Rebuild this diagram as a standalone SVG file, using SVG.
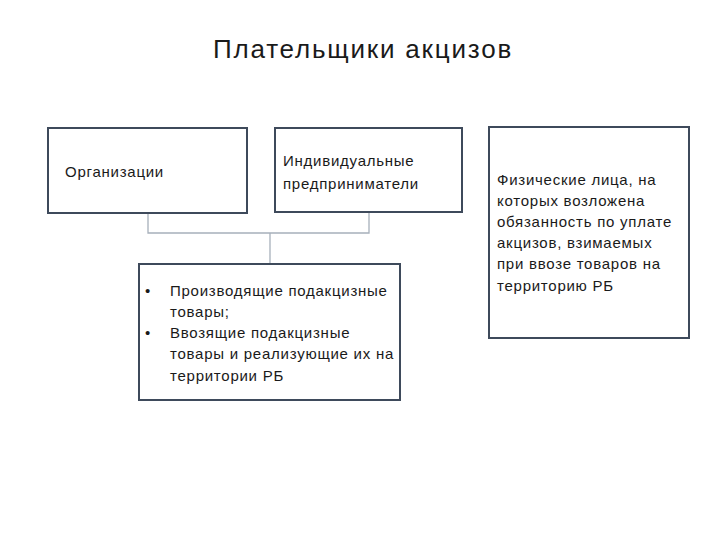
<svg xmlns="http://www.w3.org/2000/svg" width="720" height="540" viewBox="0 0 720 540">
<style>
.box{fill:#ffffff;stroke:#3e4a5b;stroke-width:2}
.t{font-family:"Liberation Sans",Arial,sans-serif;font-size:15px;letter-spacing:0.75px;fill:#1a1a1a}
.title{font-family:"Liberation Sans",Arial,sans-serif;font-size:26px;letter-spacing:1.8px;fill:#1a1a1a}
.con{fill:none;stroke:#a7b0bb;stroke-width:1.3}
</style>
<rect width="720" height="540" fill="#ffffff"/>
<text class="title" x="213" y="58">Плательщики акцизов</text>
<g id="connectors">
<path class="con" d="M148 213 V233 H369 V212"/>
<path class="con" d="M270 233 V264"/>
</g>
<g id="org">
<rect class="box" x="48" y="128" width="199" height="85"/>
<text class="t" x="65" y="177">Организации</text>
</g>
<g id="ip">
<rect class="box" x="275" y="128" width="187" height="84"/>
<text class="t" x="283" y="166">Индивидуальные</text>
<text class="t" x="283" y="189">предприниматели</text>
</g>
<g id="fiz">
<rect class="box" x="489" y="127" width="200" height="211"/>
<text class="t" x="497" y="185">Физические лица, на</text>
<text class="t" x="497" y="206">которых возложена</text>
<text class="t" x="497" y="227">обязанность по уплате</text>
<text class="t" x="497" y="248">акцизов, взимаемых</text>
<text class="t" x="497" y="269">при ввозе товаров на</text>
<text class="t" x="497" y="291">территорию РБ</text>
</g>
<g id="list">
<rect class="box" x="139" y="264" width="261" height="136"/>
<text class="t" x="145" y="296">•</text>
<text class="t" x="170" y="296">Производящие подакцизные</text>
<text class="t" x="170" y="317">товары;</text>
<text class="t" x="145" y="338">•</text>
<text class="t" x="170" y="338">Ввозящие подакцизные</text>
<text class="t" x="170" y="359">товары и реализующие их на</text>
<text class="t" x="170" y="381">территории РБ</text>
</g>
</svg>
